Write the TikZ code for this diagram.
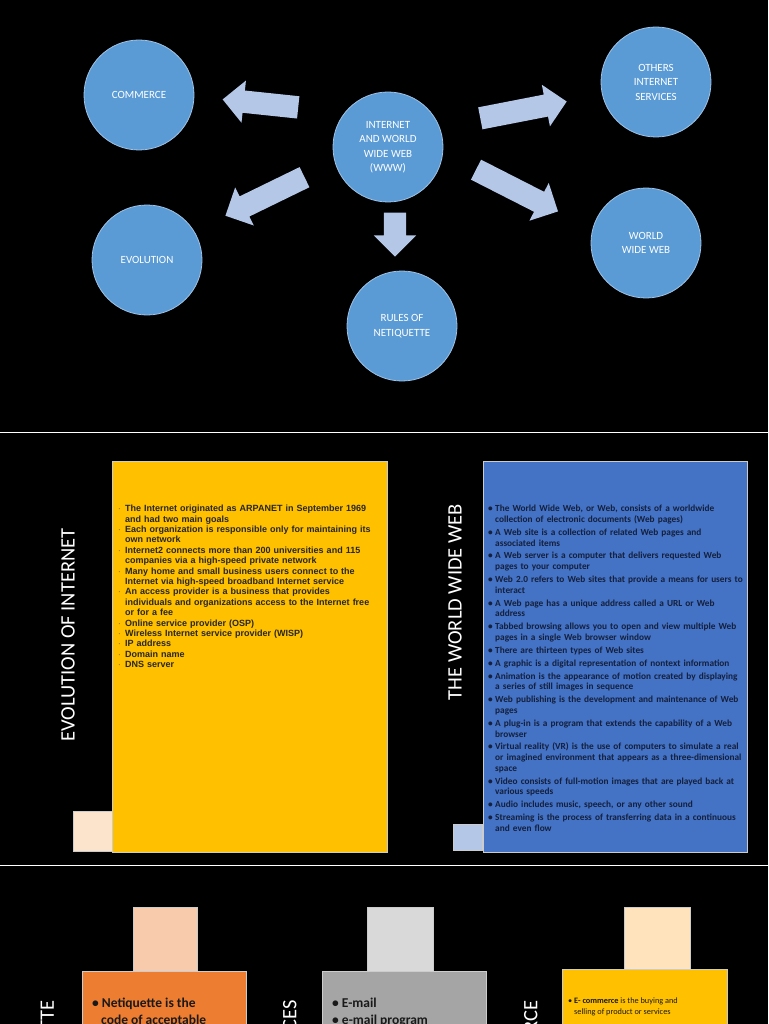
\documentclass[tikz,border=0pt]{standalone}
\usepackage{fontspec}
\setmainfont{Carlito}
\newfontfamily\arialf{Liberation Sans}
\usetikzlibrary{shapes.arrows}
\definecolor{cblue}{HTML}{5B9BD5}
\definecolor{arrowc}{HTML}{B4C7E7}
\definecolor{yel}{HTML}{FFC000}
\definecolor{dblue}{HTML}{4472C4}
\definecolor{navy}{HTML}{14203D}
\tikzset{
  topic/.style={circle,fill=cblue,draw=cblue!60!white,line width=0.8pt,minimum size=110pt,inner sep=0pt,text=white,align=center,font=\fontsize{11}{14.5}\selectfont},
  blockarrow/.style={single arrow,fill=arrowc,draw=none,inner xsep=0pt,inner ysep=11pt,single arrow head extend=10pt,single arrow head indent=0pt},
  sidetitle/.style={text=white,rotate=90,font=\fontsize{20.5}{23}\selectfont},
  panel/.style={draw=white!80!black,line width=0.6pt},
  divider/.style={white,line width=1pt}
}
\begin{document}
\begin{tikzpicture}[x=1pt,y=-1pt]
\fill[black] (0,0) rectangle (768,1024);
\useasboundingbox (0,0) rectangle (768,1024);
\clip (0,0) rectangle (768,1024);
% circles
\node[topic] (www) at (388,147) {INTERNET\\AND WORLD\\WIDE WEB\\(WWW)};
\node[topic] (com) at (139,95) {COMMERCE};
\node[topic] (oth) at (656,82) {OTHERS\\INTERNET\\SERVICES};
\node[topic] (evo) at (147,260) {EVOLUTION};
\node[topic] (rul) at (402,326) {RULES OF\\NETIQUETTE};
\node[topic] (wweb) at (646,243) {WORLD\\WIDE WEB};
% block arrows
\node[blockarrow,minimum height=76pt,rotate=174] (a1) at (266,104) {};
\node[blockarrow,minimum height=88pt,rotate=11] (a2) at (518,111) {};
\node[blockarrow,minimum height=88pt,rotate=-154] (a3) at (270,194) {};
\node[blockarrow,minimum height=92pt,rotate=-27] (a4) at (512,188) {};
\node[blockarrow,minimum height=44pt,rotate=-90] (a5) at (395,229) {};
% dividers
\coordinate (d1l) at (0,432); \coordinate (d1r) at (768,432);
\coordinate (d2l) at (0,865); \coordinate (d2r) at (768,865);
\draw[divider] (d1l) -- (d1r);
\draw[divider] (d2l) -- (d2r);
% evolution panel
\node[sidetitle] (evt) at (68,635) {EVOLUTION OF INTERNET};
\draw[panel,fill={rgb,255:red,252;green,228;blue,204}] (73,811) rectangle (112,851);
\draw[panel,fill=yel] (112,461) rectangle (387,852);
\node[anchor=north west,text width=260pt,inner sep=0pt,font=\arialf\bfseries\fontsize{9}{10.4}\selectfont,text=black!85] (evtext) at (118,505) {%
\raggedright\hyphenpenalty=10000\setlength{\parindent}{0pt}%
\def\bl#1{\hangindent=7pt\hangafter=1 \makebox[7pt][l]{$\cdot$}#1\par}%
\bl{The Internet originated as ARPANET in September 1969 and had two main goals}
\bl{Each organization is responsible only for maintaining its own network}
\bl{Internet2 connects more than 200 universities and 115 companies via a high-speed private network}
\bl{Many home and small business users connect to the Internet via high-speed broadband Internet service}
\bl{An access provider is a business that provides individuals and organizations access to the Internet free or for a fee}
\bl{Online service provider (OSP)}
\bl{Wireless Internet service provider (WISP)}
\bl{IP address}
\bl{Domain name}
\bl{DNS server}};
% www panel
\node[sidetitle] (wwt) at (455,602) {THE WORLD WIDE WEB};
\draw[panel,fill=arrowc] (453,824) rectangle (482,850);
\draw[panel,fill=dblue] (483,461) rectangle (747,852);
\node[anchor=north west,text width=256pt,inner sep=0pt,font=\bfseries\fontsize{9.3}{10.7}\selectfont,text=navy] (wwtext) at (488,505) {%
\raggedright\hyphenpenalty=10000\setlength{\parindent}{0pt}\setlength{\parskip}{2.2pt}%
\def\bl#1{\hangindent=7pt\hangafter=1 \makebox[7pt][l]{•}#1\par}%
\bl{The World Wide Web, or Web, consists of a worldwide collection of electronic documents (Web pages)}
\bl{A Web site is a collection of related Web pages and associated items}
\bl{A Web server is a computer that delivers requested Web pages to your computer}
\bl{Web 2.0 refers to Web sites that provide a means for users to interact}
\bl{A Web page has a unique address called a URL or Web address}
\bl{Tabbed browsing allows you to open and view multiple Web pages in a single Web browser window}
\bl{There are thirteen types of Web sites}
\bl{A graphic is a digital representation of nontext information}
\bl{Animation is the appearance of motion created by displaying a series of still images in sequence}
\bl{Web publishing is the development and maintenance of Web pages}
\bl{A plug-in is a program that extends the capability of a Web browser}
\bl{Virtual reality (VR) is the use of computers to simulate a real or imagined environment that appears as a three-dimensional space}
\bl{Video consists of full-motion images that are played back at various speeds}
\bl{Audio includes music, speech, or any other sound}
\bl{Streaming is the process of transferring data in a continuous and even flow}};
% bottom panels
\node[sidetitle,anchor=south east] (b1t) at (60,997) {NETIQUETTE};
\draw[panel,fill={rgb,255:red,248;green,203;blue,173}] (133,907) rectangle (197,971);
\draw[panel,fill={rgb,255:red,237;green,125;blue,49}] (82,971) rectangle (246,1030);
\node[anchor=north west,inner sep=0pt,align=left,font=\bfseries\fontsize{13.5}{17}\selectfont,text=black!90] (b1x) at (92,998) {• Netiquette is the\\\hspace{9pt}code of acceptable};
\node[sidetitle,anchor=south east] (b2t) at (300,997) {INTERNET SERVICES};
\draw[panel,fill={rgb,255:red,217;green,217;blue,217}] (367,907) rectangle (433,971);
\draw[panel,fill={rgb,255:red,165;green,165;blue,165}] (322,971) rectangle (486,1030);
\node[anchor=north west,inner sep=0pt,align=left,font=\bfseries\fontsize{13.5}{17}\selectfont,text=black!90] (b2x) at (332,998) {• E-mail\\• e-mail program};
\node[sidetitle,anchor=south east] (b3t) at (541,997) {E-COMMERCE};
\draw[panel,fill={rgb,255:red,255;green,227;blue,189}] (624,907) rectangle (690,971);
\draw[panel,fill=yel] (562,969) rectangle (727,1030);
\node[anchor=north west,inner sep=0pt,align=left,font=\fontsize{8.3}{11}\selectfont,text=black!90] (b3x) at (568,998) {• \textbf{E- commerce} is the buying and\\\hspace{6pt}selling of product or services};
\end{tikzpicture}
\end{document}
